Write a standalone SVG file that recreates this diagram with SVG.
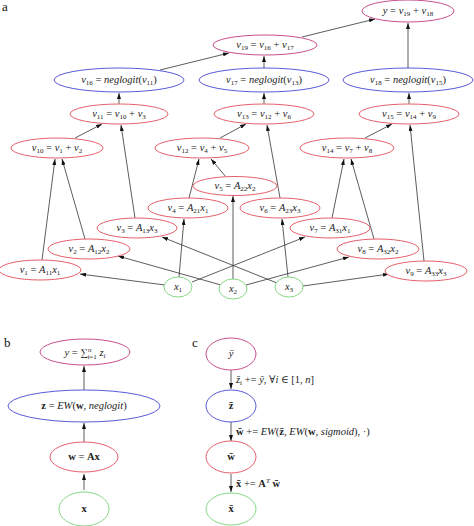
<svg xmlns="http://www.w3.org/2000/svg" width="474" height="526" viewBox="0 0 474 526">
<defs>
<marker id="ah" viewBox="0 0 6 4" refX="6" refY="2" markerWidth="6" markerHeight="4" markerUnits="userSpaceOnUse" orient="auto">
<path d="M0,0 L6,2 L0,4 Z" fill="#111"/>
</marker>
<style>
.r{fill:#fff;stroke:#e6606c;stroke-width:1}
.m{fill:#fff;stroke:#c8508e;stroke-width:1}
.b{fill:#fff;stroke:#5a5ad8;stroke-width:1}
.g{fill:#fff;stroke:#86d886;stroke-width:1}
text{font-family:"Liberation Serif","DejaVu Serif",serif;font-size:10.5px;fill:#222;text-anchor:middle}
.i{font-style:italic}
.s{font-size:7px}
.bf{font-weight:bold}
.lab{font-size:13px;text-anchor:start;fill:#111}
.el{text-anchor:start}
#edges line{stroke:#333;stroke-width:0.8;marker-end:url(#ah)}
</style>
</defs>
<rect width="474" height="526" fill="#fff"/>
<text class="lab" x="2" y="11">a</text>
<text class="lab" x="4" y="347">b</text>
<text class="lab" x="192" y="347">c</text>

<g id="edges">
<line x1="160" y1="70" x2="229" y2="53"/>
<line x1="264" y1="68" x2="264" y2="56"/>
<line x1="302" y1="37" x2="375" y2="19"/>
<line x1="408" y1="68" x2="408" y2="23"/>
<line x1="119" y1="104" x2="119" y2="93"/>
<line x1="264" y1="104" x2="264" y2="93"/>
<line x1="409" y1="104" x2="409" y2="93"/>
<line x1="75" y1="138" x2="102" y2="124"/>
<line x1="135" y1="218" x2="121" y2="125"/>
<line x1="220" y1="138" x2="246" y2="124"/>
<line x1="280" y1="198" x2="267" y2="125"/>
<line x1="365" y1="138" x2="392" y2="124"/>
<line x1="424" y1="261" x2="410" y2="125"/>
<line x1="42" y1="260" x2="55" y2="159"/>
<line x1="85" y1="239" x2="62" y2="159"/>
<line x1="189" y1="198" x2="199" y2="159"/>
<line x1="226" y1="177" x2="211" y2="159"/>
<line x1="332" y1="218" x2="344" y2="159"/>
<line x1="374" y1="239" x2="351" y2="159"/>
<line x1="165" y1="285" x2="80" y2="274"/>
<line x1="179" y1="277" x2="184" y2="219"/>
<line x1="192" y1="282" x2="305" y2="237"/>
<line x1="221" y1="285" x2="118" y2="256"/>
<line x1="233" y1="280" x2="233" y2="196"/>
<line x1="246" y1="285" x2="349" y2="257"/>
<line x1="277" y1="283" x2="162" y2="237"/>
<line x1="288" y1="277" x2="282" y2="219"/>
<line x1="303" y1="286" x2="389" y2="274"/>
<line x1="84" y1="390" x2="84" y2="366"/>
<line x1="84" y1="442" x2="84" y2="423"/>
<line x1="84" y1="490" x2="84" y2="474"/>
<line x1="231" y1="370" x2="231" y2="389"/>
<line x1="231" y1="422" x2="231" y2="441"/>
<line x1="231" y1="474" x2="231" y2="492"/>
</g>
<g id="elabels">
<text class="el" x="236" y="383"><tspan class="i">z̄</tspan><tspan class="s" dy="2">i</tspan><tspan dy="-2"> += </tspan><tspan class="i">ȳ</tspan>, ∀<tspan class="i">i</tspan> ∈ [1, <tspan class="i">n</tspan>]</text>
<text class="el" x="236" y="435"><tspan class="bf">w̄</tspan> += <tspan class="i">EW</tspan>(<tspan class="bf">z̄</tspan>, <tspan class="i">EW</tspan>(<tspan class="bf">w</tspan>, <tspan class="i">sigmoid</tspan>), ·)</text>
<text class="el" x="236" y="487"><tspan class="bf">x̄</tspan> += <tspan class="bf">A</tspan><tspan class="s i" dy="-4">T</tspan><tspan class="bf" dy="4"> w̄</tspan></text>
</g>

<g id="y"><ellipse class="m" cx="408" cy="11" rx="46" ry="11"/><text x="408" y="14"><tspan class="i">y</tspan> = <tspan class="i">v</tspan><tspan class="s" dy="2">19</tspan><tspan dy="-2"> + </tspan><tspan class="i">v</tspan><tspan class="s" dy="2">18</tspan></text></g>
<g id="v19"><ellipse class="m" cx="265" cy="45" rx="52" ry="10"/><text x="265" y="48"><tspan class="i">v</tspan><tspan class="s" dy="2">19</tspan><tspan dy="-2"> = </tspan><tspan class="i">v</tspan><tspan class="s" dy="2">16</tspan><tspan dy="-2"> + </tspan><tspan class="i">v</tspan><tspan class="s" dy="2">17</tspan></text></g>
<g id="v16"><ellipse class="b" cx="119" cy="80" rx="65" ry="12"/><text x="119" y="83"><tspan class="i">v</tspan><tspan class="s" dy="2">16</tspan><tspan dy="-2"> = </tspan><tspan class="i">neglogit</tspan>(<tspan class="i">v</tspan><tspan class="s" dy="2">11</tspan><tspan dy="-2">)</tspan></text></g>
<g id="v17"><ellipse class="b" cx="264" cy="80" rx="65" ry="12"/><text x="264" y="83"><tspan class="i">v</tspan><tspan class="s" dy="2">17</tspan><tspan dy="-2"> = </tspan><tspan class="i">neglogit</tspan>(<tspan class="i">v</tspan><tspan class="s" dy="2">13</tspan><tspan dy="-2">)</tspan></text></g>
<g id="v18"><ellipse class="b" cx="408" cy="80" rx="65" ry="12"/><text x="408" y="83"><tspan class="i">v</tspan><tspan class="s" dy="2">18</tspan><tspan dy="-2"> = </tspan><tspan class="i">neglogit</tspan>(<tspan class="i">v</tspan><tspan class="s" dy="2">15</tspan><tspan dy="-2">)</tspan></text></g>
<g id="v11"><ellipse class="r" cx="119" cy="114" rx="49" ry="10"/><text x="119" y="117"><tspan class="i">v</tspan><tspan class="s" dy="2">11</tspan><tspan dy="-2"> = </tspan><tspan class="i">v</tspan><tspan class="s" dy="2">10</tspan><tspan dy="-2"> + </tspan><tspan class="i">v</tspan><tspan class="s" dy="2">3</tspan></text></g>
<g id="v13"><ellipse class="r" cx="264" cy="114" rx="50" ry="10"/><text x="264" y="117"><tspan class="i">v</tspan><tspan class="s" dy="2">13</tspan><tspan dy="-2"> = </tspan><tspan class="i">v</tspan><tspan class="s" dy="2">12</tspan><tspan dy="-2"> + </tspan><tspan class="i">v</tspan><tspan class="s" dy="2">6</tspan></text></g>
<g id="v15"><ellipse class="r" cx="409" cy="114" rx="50" ry="10"/><text x="409" y="117"><tspan class="i">v</tspan><tspan class="s" dy="2">15</tspan><tspan dy="-2"> = </tspan><tspan class="i">v</tspan><tspan class="s" dy="2">14</tspan><tspan dy="-2"> + </tspan><tspan class="i">v</tspan><tspan class="s" dy="2">9</tspan></text></g>
<g id="v10"><ellipse class="r" cx="57" cy="148" rx="46" ry="10"/><text x="57" y="151"><tspan class="i">v</tspan><tspan class="s" dy="2">10</tspan><tspan dy="-2"> = </tspan><tspan class="i">v</tspan><tspan class="s" dy="2">1</tspan><tspan dy="-2"> + </tspan><tspan class="i">v</tspan><tspan class="s" dy="2">2</tspan></text></g>
<g id="v12"><ellipse class="r" cx="202" cy="148" rx="47" ry="10"/><text x="202" y="151"><tspan class="i">v</tspan><tspan class="s" dy="2">12</tspan><tspan dy="-2"> = </tspan><tspan class="i">v</tspan><tspan class="s" dy="2">4</tspan><tspan dy="-2"> + </tspan><tspan class="i">v</tspan><tspan class="s" dy="2">5</tspan></text></g>
<g id="v14"><ellipse class="r" cx="347" cy="148" rx="47" ry="10"/><text x="347" y="151"><tspan class="i">v</tspan><tspan class="s" dy="2">14</tspan><tspan dy="-2"> = </tspan><tspan class="i">v</tspan><tspan class="s" dy="2">7</tspan><tspan dy="-2"> + </tspan><tspan class="i">v</tspan><tspan class="s" dy="2">8</tspan></text></g>
<g id="v5"><ellipse class="r" cx="235" cy="186" rx="42" ry="9.5"/><text x="235" y="189"><tspan class="i">v</tspan><tspan class="s" dy="2">5</tspan><tspan dy="-2"> = </tspan><tspan class="i">A</tspan><tspan class="s" dy="2">22</tspan><tspan class="i" dy="-2">x</tspan><tspan class="s" dy="2">2</tspan></text></g>
<g id="v4"><ellipse class="r" cx="188" cy="208" rx="40" ry="10"/><text x="188" y="211"><tspan class="i">v</tspan><tspan class="s" dy="2">4</tspan><tspan dy="-2"> = </tspan><tspan class="i">A</tspan><tspan class="s" dy="2">21</tspan><tspan class="i" dy="-2">x</tspan><tspan class="s" dy="2">1</tspan></text></g>
<g id="v6"><ellipse class="r" cx="280" cy="208" rx="40" ry="10"/><text x="280" y="211"><tspan class="i">v</tspan><tspan class="s" dy="2">6</tspan><tspan dy="-2"> = </tspan><tspan class="i">A</tspan><tspan class="s" dy="2">23</tspan><tspan class="i" dy="-2">x</tspan><tspan class="s" dy="2">3</tspan></text></g>
<g id="v3"><ellipse class="r" cx="137" cy="228" rx="40" ry="10"/><text x="137" y="231"><tspan class="i">v</tspan><tspan class="s" dy="2">3</tspan><tspan dy="-2"> = </tspan><tspan class="i">A</tspan><tspan class="s" dy="2">13</tspan><tspan class="i" dy="-2">x</tspan><tspan class="s" dy="2">3</tspan></text></g>
<g id="v7"><ellipse class="r" cx="330" cy="228" rx="40" ry="10"/><text x="330" y="231"><tspan class="i">v</tspan><tspan class="s" dy="2">7</tspan><tspan dy="-2"> = </tspan><tspan class="i">A</tspan><tspan class="s" dy="2">31</tspan><tspan class="i" dy="-2">x</tspan><tspan class="s" dy="2">1</tspan></text></g>
<g id="v2"><ellipse class="r" cx="89" cy="249" rx="41" ry="10"/><text x="89" y="252"><tspan class="i">v</tspan><tspan class="s" dy="2">2</tspan><tspan dy="-2"> = </tspan><tspan class="i">A</tspan><tspan class="s" dy="2">12</tspan><tspan class="i" dy="-2">x</tspan><tspan class="s" dy="2">2</tspan></text></g>
<g id="v8"><ellipse class="r" cx="378" cy="249" rx="41" ry="10"/><text x="378" y="252"><tspan class="i">v</tspan><tspan class="s" dy="2">8</tspan><tspan dy="-2"> = </tspan><tspan class="i">A</tspan><tspan class="s" dy="2">32</tspan><tspan class="i" dy="-2">x</tspan><tspan class="s" dy="2">2</tspan></text></g>
<g id="v1"><ellipse class="r" cx="40" cy="270" rx="41" ry="10"/><text x="40" y="273"><tspan class="i">v</tspan><tspan class="s" dy="2">1</tspan><tspan dy="-2"> = </tspan><tspan class="i">A</tspan><tspan class="s" dy="2">11</tspan><tspan class="i" dy="-2">x</tspan><tspan class="s" dy="2">1</tspan></text></g>
<g id="v9"><ellipse class="r" cx="426" cy="271" rx="41" ry="10"/><text x="426" y="274"><tspan class="i">v</tspan><tspan class="s" dy="2">9</tspan><tspan dy="-2"> = </tspan><tspan class="i">A</tspan><tspan class="s" dy="2">33</tspan><tspan class="i" dy="-2">x</tspan><tspan class="s" dy="2">3</tspan></text></g>
<g id="x1"><ellipse class="g" cx="178" cy="287" rx="14" ry="10"/><text x="178" y="290"><tspan class="i">x</tspan><tspan class="s" dy="2">1</tspan></text></g>
<g id="x2"><ellipse class="g" cx="233" cy="289" rx="14" ry="10"/><text x="233" y="292"><tspan class="i">x</tspan><tspan class="s" dy="2">2</tspan></text></g>
<g id="x3"><ellipse class="g" cx="289" cy="287" rx="14" ry="10"/><text x="289" y="290"><tspan class="i">x</tspan><tspan class="s" dy="2">3</tspan></text></g>

<g id="b_y"><ellipse class="m" cx="85" cy="352" rx="45" ry="13"/><text x="85" y="356"><tspan class="i">y</tspan> = ∑<tspan class="s i" dy="-4">n</tspan><tspan class="s" dx="-4" dy="7"><tspan class="i">i</tspan>=1</tspan><tspan class="i" dy="-3"> z</tspan><tspan class="s i" dy="2">i</tspan></text></g>
<g id="b_z"><ellipse class="b" cx="84" cy="406" rx="76" ry="16"/><text x="84" y="409"><tspan class="bf">z</tspan> = <tspan class="i">EW</tspan>(<tspan class="bf">w</tspan>, <tspan class="i">neglogit</tspan>)</text></g>
<g id="b_w"><ellipse class="r" cx="84" cy="457" rx="34" ry="15"/><text x="84" y="460"><tspan class="bf">w</tspan> = <tspan class="bf">Ax</tspan></text></g>
<g id="b_x"><ellipse class="g" cx="84" cy="509" rx="25" ry="17"/><text x="84" y="512" class="bf">x</text></g>

<g id="c_y"><ellipse class="m" cx="231" cy="354" rx="25" ry="16"/><text x="231" y="357" class="i">ȳ</text></g>
<g id="c_z"><ellipse class="b" cx="231" cy="406" rx="25" ry="16"/><text x="231" y="409" class="bf">z̄</text></g>
<g id="c_w"><ellipse class="r" cx="231" cy="457" rx="25" ry="16"/><text x="231" y="460" class="bf">w̄</text></g>
<g id="c_x"><ellipse class="g" cx="231" cy="509" rx="25" ry="16"/><text x="231" y="512" class="bf">x̄</text></g>
</svg>
